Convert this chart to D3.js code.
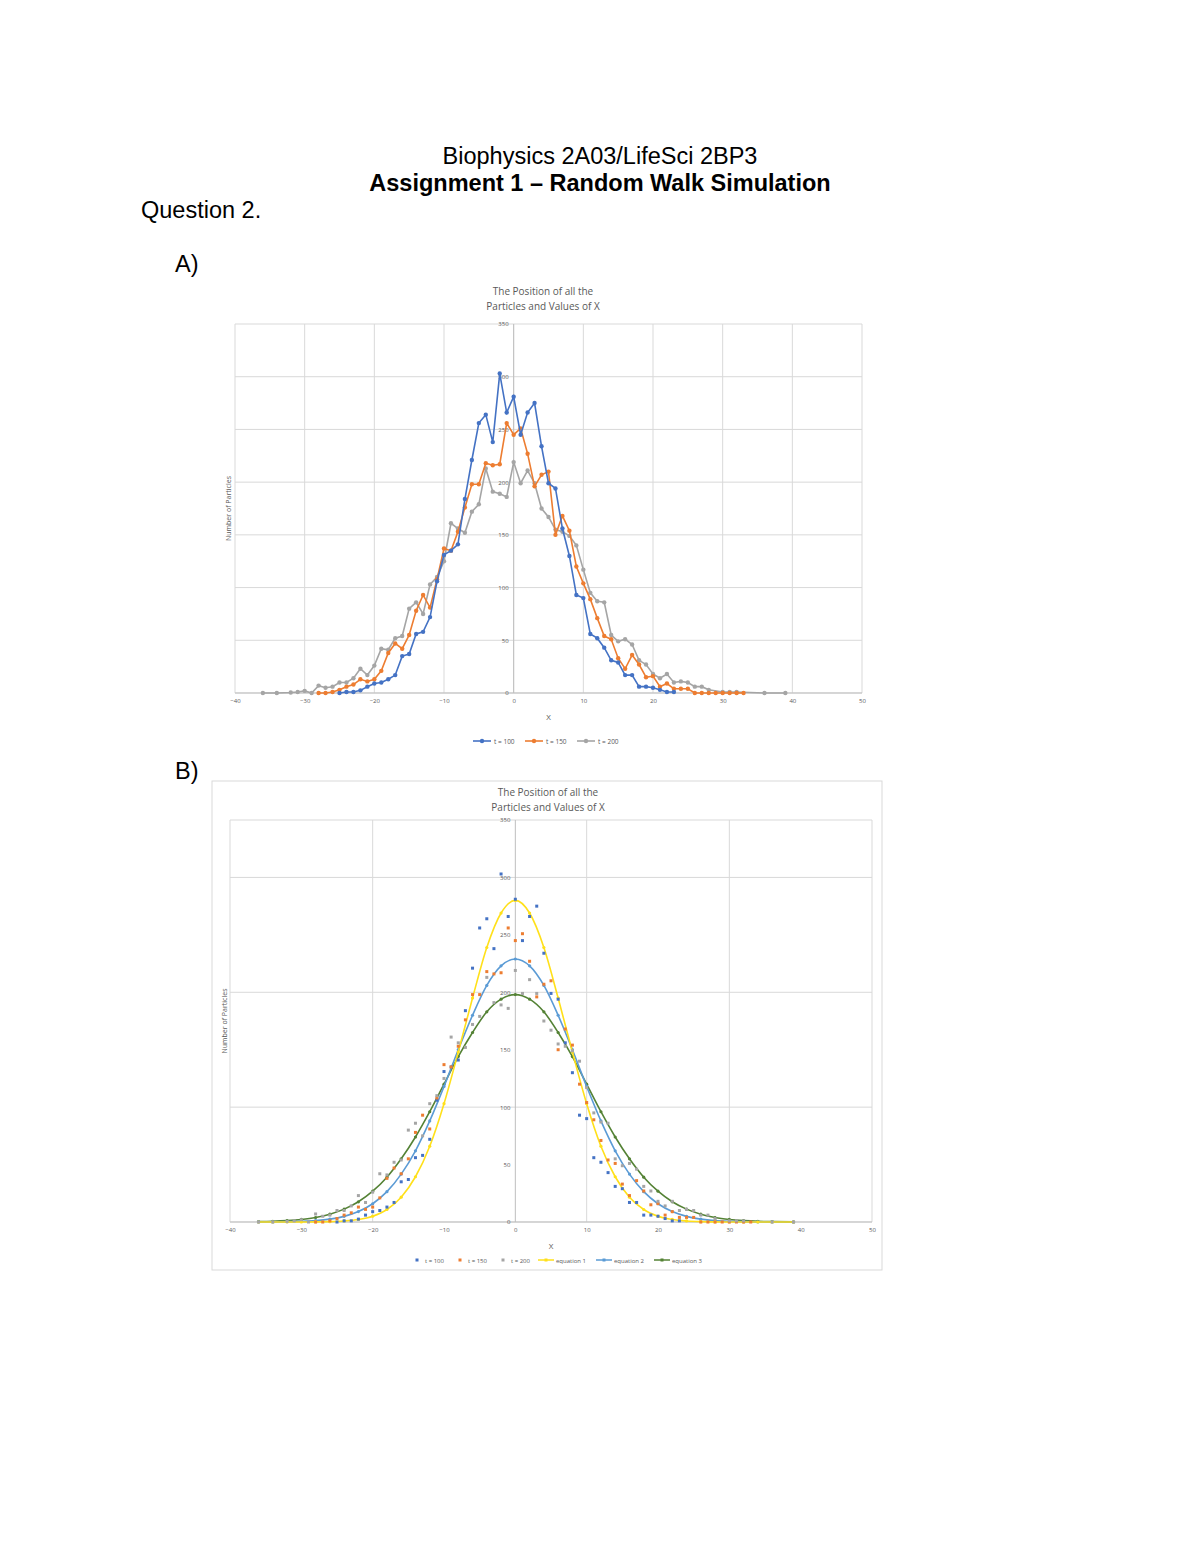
<!DOCTYPE html>
<html><head><meta charset="utf-8">
<script src="https://cdn.jsdelivr.net/npm/d3@7"></script>
<style>body{margin:0;background:#fff}svg{display:block}</style>
</head><body>
<svg id="c" width="1200" height="1553"></svg>
<script>
const xBlue=d3.range(-25,24);
const t100=[0,1,1,2.5,6,9,10,13,17,35,37,56,58,72,106,131,135,141,184,221,256,264,238,303,266,281,245,266,275,234,199,194,156,130,93,90,56,52,43,31,29,17,17,6,6,5,3,1,1];
const xOrange=d3.range(-28,34);
const t150=[0,0,1,3,6,8,13,11,13,21,38,47,42,55,78,93,81,108,137,135,153,176,198,198,218,216,217,256,245,251,227,196,207,210,150,168,154,120,104,89,71,54,51,33,23,36,27,15,16,6,9,4,4,4,0,0,0,0,0,0,0,0];
const xGray=[-36,-34,-32,-31,-30,-29,-28,-27,-26,-25,-24,-23,-22,-21,-20,-19,-18,-17,-16,-15,-14,-13,-12,-11,-10,-9,-8,-7,-6,-5,-4,-3,-2,-1,0,1,2,3,4,5,6,7,8,9,10,11,12,13,14,15,16,17,18,19,20,21,22,23,24,25,26,27,28,30,31,32,36,39];
const t200=[0,0,0.5,1,2,0,7,5,6,10,10,14,23,17,26,42,41,52,54,80,86,75,103,110,125,161,156,152,172,179,213,191,189,186,219,199,211,199,175,167,155,153,149,140,117,95,87,86,55,49,51,46,31,27,18,14,18,10,11,10,6,6,3,1,1,1,0,0];
const xEq=[-36,-34,-32,-30,-28,-26,-24,-22,-20,-18,-16,-14,-12,-10,-8,-6,-4,-2,0,2,4,6,8,10,12,14,16,18,20,22,24,26,28,30,32,34,36,39];
const eq1=[0,0,0,0,0.1,0.3,0.9,2.2,5.1,10.9,21.6,39.4,66,103,148,195,239,269,280,269,239,195,148,103,66,39.4,21.6,10.9,5.1,2.2,0.9,0.3,0.1,0,0,0,0,0];
const eq2=[0.05,0.1,0.3,0.6,1.2,2.5,4.9,9.1,15.9,26.4,41.7,62,88,118,150,180,206,223,229,223,206,180,150,118,88,62,41.7,26.4,15.9,9.1,4.9,2.5,1.2,0.6,0.3,0.1,0.05,0];
const eq3=[0.3,0.6,1.2,2.2,3.9,6.8,11.2,17.6,26.8,39,55,74,96,120,144,165,183,194,198,194,183,165,144,120,96,74,55,39,26.8,17.6,11.2,6.8,3.9,2.2,1.2,0.6,0.3,0.1];
const xTicks=d3.range(-40,51,10);
const yTicks=d3.range(0,351,50);
const cBlue="#4472c4",cOrange="#ed7d31",cGray="#a5a5a5",cYellow="#ffe01a",cGreen="#548235",cEq2="#5b9bd5";

const svg=d3.select("#c");
const F="'Liberation Sans',Arial,sans-serif";
svg.append("text").attr("x",600).attr("y",164).attr("text-anchor","middle").attr("font-family",F).attr("font-size",23.5).text("Biophysics 2A03/LifeSci 2BP3");
svg.append("text").attr("x",600).attr("y",191).attr("text-anchor","middle").attr("font-family",F).attr("font-weight","bold").attr("font-size",23.5).text("Assignment 1 – Random Walk Simulation");
svg.append("text").attr("x",141).attr("y",218).attr("font-family",F).attr("font-size",23.5).text("Question 2.");
svg.append("text").attr("x",175).attr("y",272).attr("font-family",F).attr("font-size",23.5).text("A)");
svg.append("text").attr("x",175).attr("y",779).attr("font-family",F).attr("font-size",23.5).text("B)");

function chart(o){
  const g=svg.append("g");
  const x=d3.scaleLinear().domain([-40,50]).range([o.l,o.r]);
  const y=d3.scaleLinear().domain([0,350]).range([o.b,o.t]);
  const CF="'Open Sans',sans-serif";
  if(o.frame) g.append("rect").attr("x",o.frame[0]).attr("y",o.frame[1]).attr("width",o.frame[2]).attr("height",o.frame[3]).attr("fill","none").attr("stroke","#d9d9d9");
  g.append("text").attr("x",o.tx).attr("y",o.ty).attr("text-anchor","middle").attr("font-family",CF).attr("font-size",10).attr("fill","#595959").text("The Position of all the");
  g.append("text").attr("x",o.tx).attr("y",o.ty+15).attr("text-anchor","middle").attr("font-family",CF).attr("font-size",10).attr("fill","#595959").text("Particles and Values of X");
  g.selectAll(".hg").data(o.hgrid).join("line").attr("x1",o.l).attr("x2",o.r).attr("y1",d=>y(d)).attr("y2",d=>y(d)).attr("stroke","#d9d9d9");
  g.selectAll(".vg").data(o.vgrid).join("line").attr("y1",o.t).attr("y2",o.b).attr("x1",d=>x(d)).attr("x2",d=>x(d)).attr("stroke","#d9d9d9");
  g.append("line").attr("x1",x(0)).attr("x2",x(0)).attr("y1",o.t).attr("y2",o.b).attr("stroke","#bfbfbf");
  g.append("line").attr("x1",o.l).attr("x2",o.r).attr("y1",o.b).attr("y2",o.b).attr("stroke","#bfbfbf");
  const xa=g.append("g").attr("transform",`translate(0,${o.b+3})`).call(d3.axisBottom(x).tickValues(xTicks).tickSize(0));
  const ya=g.append("g").attr("transform",`translate(${x(0)-2},0)`).call(d3.axisLeft(y).tickValues(yTicks).tickSize(0));
  [xa,ya].forEach(a=>{a.select(".domain").remove();a.selectAll("text").attr("font-family",CF).attr("font-size",6).attr("fill","#595959");});
  g.append("text").attr("x",x(5)).attr("y",o.b+27).attr("text-anchor","middle").attr("font-family",CF).attr("font-size",8).attr("fill","#595959").text("X");
  g.append("text").attr("transform",`translate(${o.yl},${(o.t+o.b)/2}) rotate(-90)`).attr("text-anchor","middle").attr("font-family",CF).attr("font-size",7).attr("fill","#595959").text("Number of Particles");
  return {g,x,y};
}

const A=chart({l:235,r:862,t:324,b:693,tx:543,ty:295,hgrid:yTicks,vgrid:xTicks,yl:231});
const sA=[[xBlue,t100,cBlue,"t = 100"],[xOrange,t150,cOrange,"t = 150"],[xGray,t200,cGray,"t = 200"]];
sA.slice().reverse().forEach(([xs,vs,c])=>{
  const pts=xs.map((d,i)=>[d,vs[i]]);
  A.g.append("path").datum(pts).attr("fill","none").attr("stroke",c).attr("stroke-width",1.6).attr("d",d3.line().x(d=>A.x(d[0])).y(d=>A.y(d[1])));
  A.g.selectAll(null).data(pts).join("circle").attr("cx",d=>A.x(d[0])).attr("cy",d=>A.y(d[1])).attr("r",2.2).attr("fill",c);
});
sA.forEach(([,,c,l],i)=>{
  const lx=473+i*52,ly=741;
  A.g.append("line").attr("x1",lx).attr("x2",lx+18).attr("y1",ly).attr("y2",ly).attr("stroke",c).attr("stroke-width",1.6);
  A.g.append("circle").attr("cx",lx+9).attr("cy",ly).attr("r",2.2).attr("fill",c);
  A.g.append("text").attr("x",lx+21).attr("y",ly+2.5).attr("font-family","'Open Sans',sans-serif").attr("font-size",6.5).attr("fill","#595959").text(l);
});

const B=chart({l:230,r:872,t:820,b:1222,tx:548,ty:796,hgrid:[0,100,200,300,350],vgrid:[-40,-20,10,30,50],yl:227,frame:[212,781,670,489]});
const eqs=[[eq1,cYellow,"equation 1"],[eq2,cEq2,"equation 2"],[eq3,cGreen,"equation 3"]];
eqs.slice().reverse().forEach(([vs,c])=>{
  const pts=xEq.map((d,i)=>[d,vs[i]]);
  B.g.append("path").datum(pts).attr("fill","none").attr("stroke",c).attr("stroke-width",1.6).attr("d",d3.line().curve(d3.curveMonotoneX).x(d=>B.x(d[0])).y(d=>B.y(d[1])));
  B.g.selectAll(null).data(pts).join("circle").attr("cx",d=>B.x(d[0])).attr("cy",d=>B.y(d[1])).attr("r",1.6).attr("fill",c);
});
sA.forEach(([xs,vs,c])=>{
  const pts=xs.map((d,i)=>[d,vs[i]]);
  B.g.selectAll(null).data(pts).join("rect").attr("x",d=>B.x(d[0])-1.5).attr("y",d=>B.y(d[1])-1.5).attr("width",3).attr("height",3).attr("fill",c);
});
const legB=[[cBlue,"t = 100",0],[cOrange,"t = 150",0],[cGray,"t = 200",0],[cYellow,"equation 1",1],[cEq2,"equation 2",1],[cGreen,"equation 3",1]];
let lx=417;
legB.forEach(([c,l,ln])=>{
  const ly=1260;
  if(ln) B.g.append("line").attr("x1",lx-8).attr("x2",lx+8).attr("y1",ly).attr("y2",ly).attr("stroke",c).attr("stroke-width",1.5);
  B.g.append("rect").attr("x",lx-1.5).attr("y",ly-1.5).attr("width",3).attr("height",3).attr("fill",c);
  B.g.append("text").attr("x",lx+(ln?10:8)).attr("y",ly+2.5).attr("font-family","'Open Sans',sans-serif").attr("font-size",6).attr("fill","#595959").text(l);
  lx+= ln?58:43;
});
</script>
</body></html>
